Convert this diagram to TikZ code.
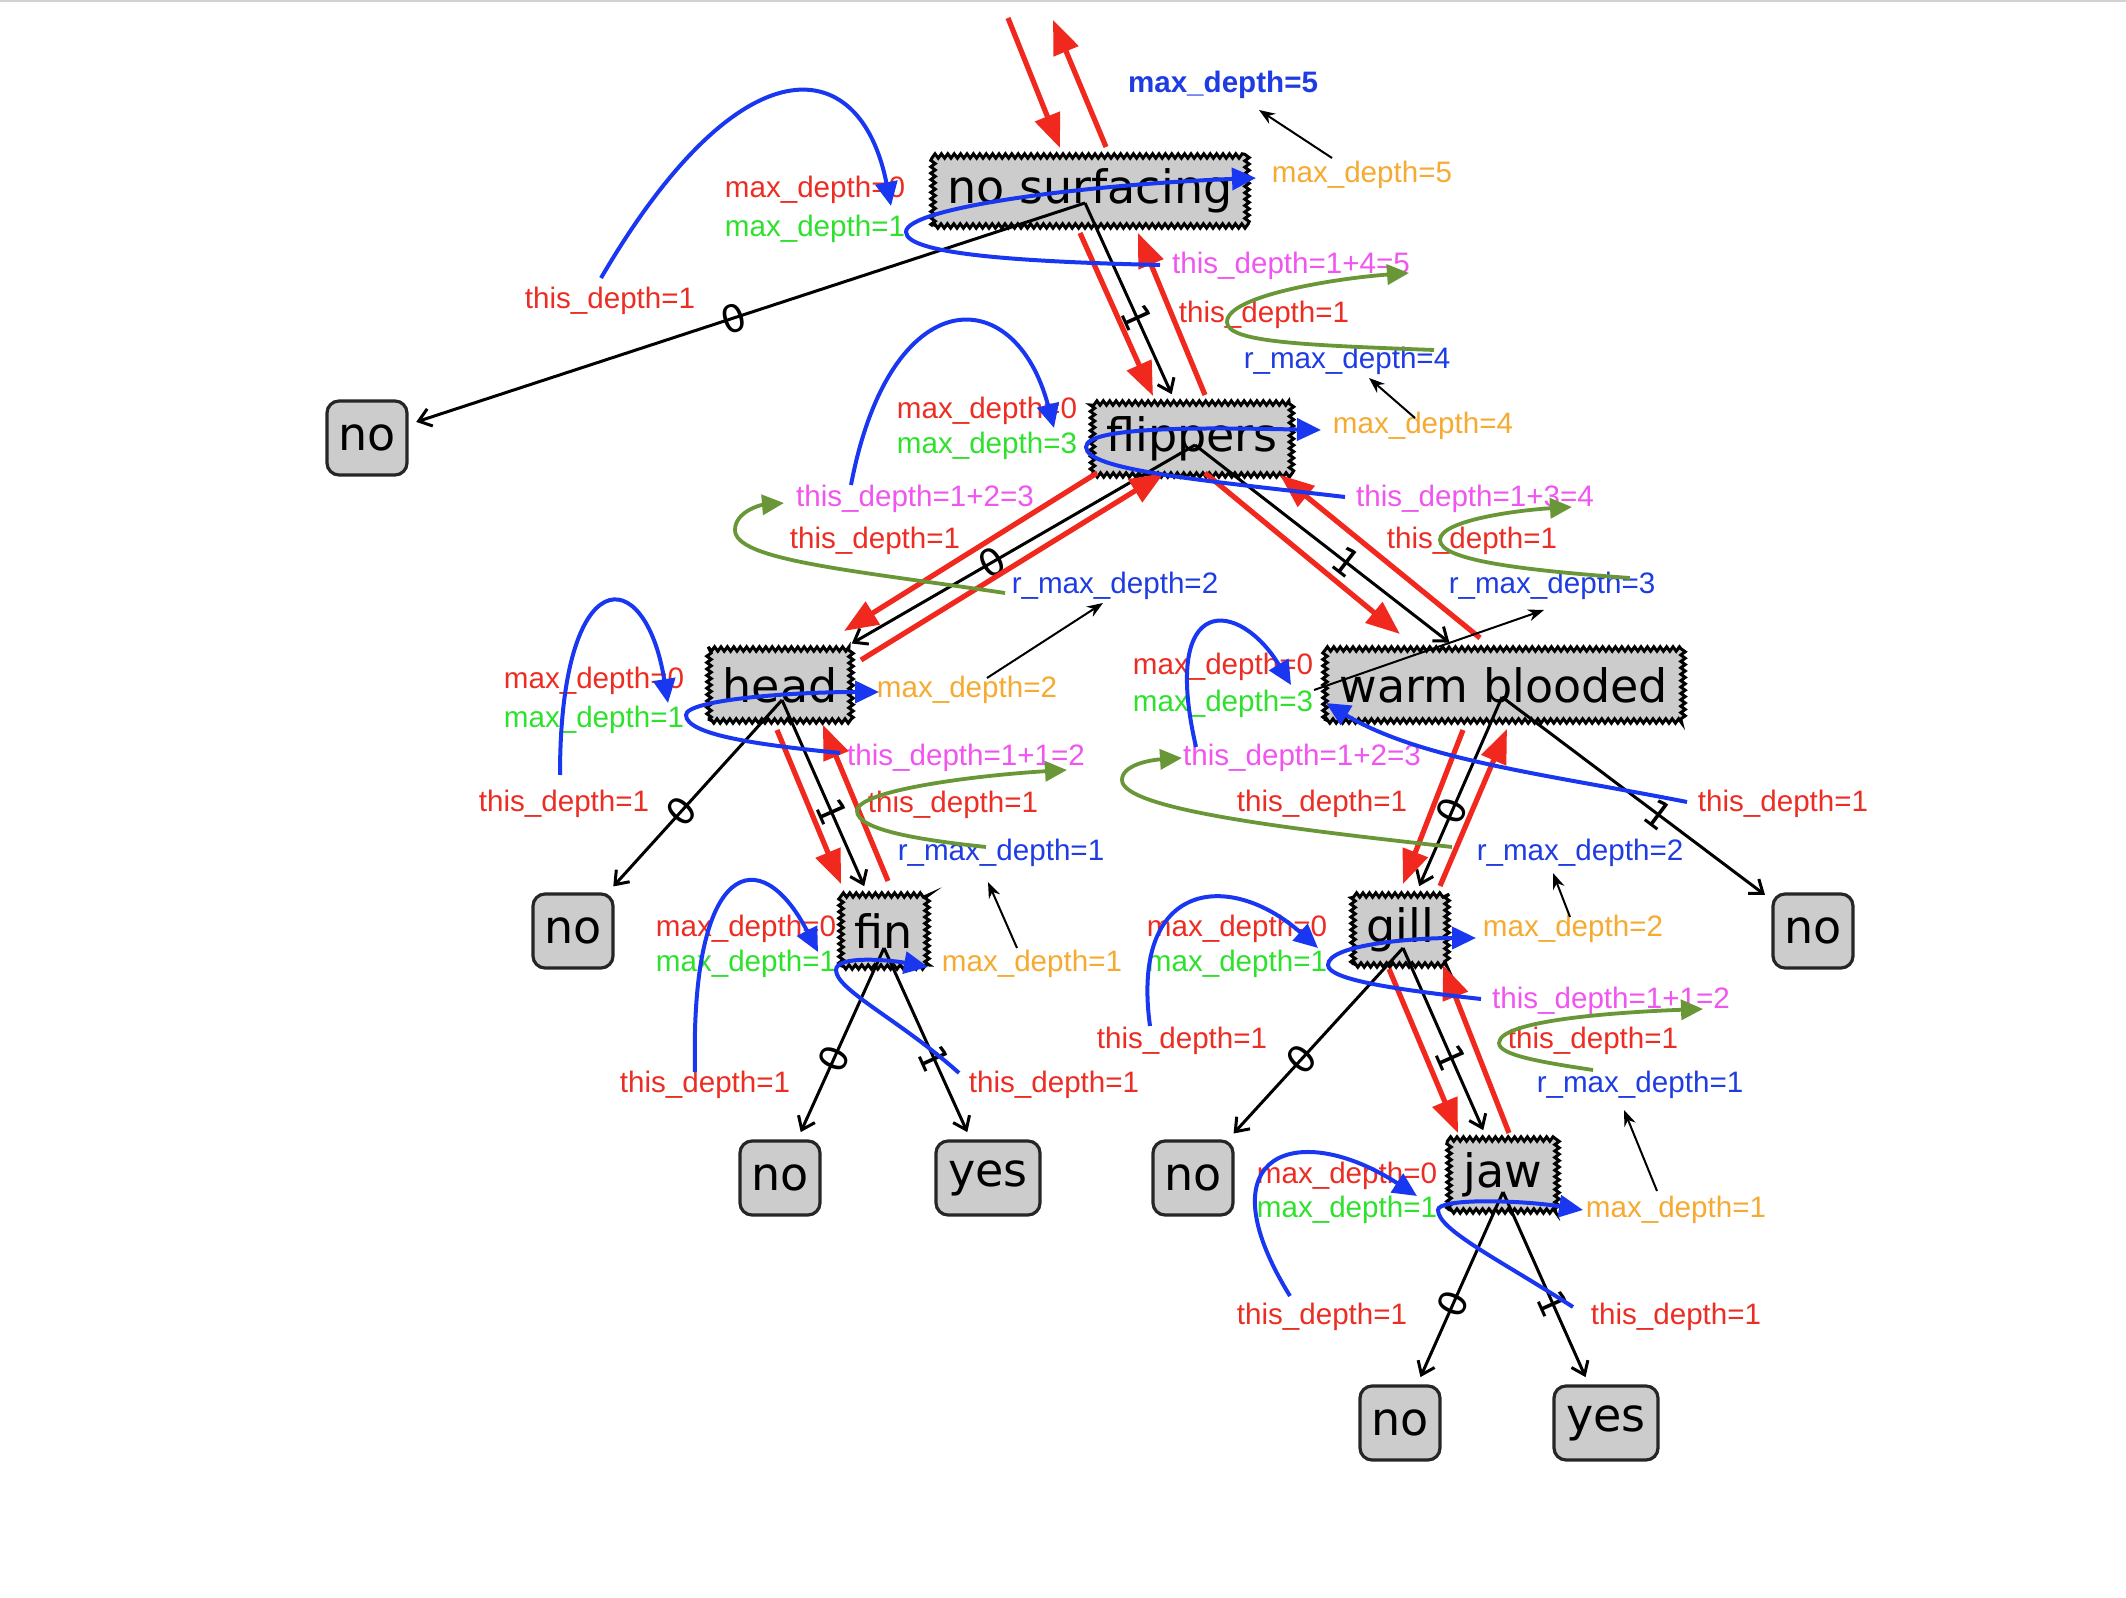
\documentclass[tikz,border=0pt]{standalone}
\usepackage{fontspec}
\setmainfont{Liberation Sans}
\newfontfamily\nodefont{DejaVu Sans}
\usetikzlibrary{arrows.meta,decorations.pathmorphing}
\definecolor{myred}{RGB}{240,40,30}
\definecolor{myblue}{RGB}{25,55,240}
\definecolor{mygreen}{RGB}{105,150,55}
\definecolor{lgreen}{RGB}{45,225,45}
\definecolor{orng}{RGB}{245,170,50}
\definecolor{mag}{RGB}{240,85,240}
\definecolor{rtext}{RGB}{235,45,35}
\definecolor{btext}{RGB}{30,60,225}
\definecolor{boxgray}{RGB}{204,204,204}
\tikzset{
  dec/.style={draw=black, line width=1.5pt, fill=boxgray, inner sep=0pt,
    font=\nodefont\fontsize{23}{24}\selectfont,
    decorate, decoration={zigzag, segment length=3.2pt, amplitude=1.1pt}},
  leaf/.style={draw=black!85, line width=1.6pt, fill=boxgray, rounded corners=6pt,
    inner sep=0pt, minimum height=37pt, font=\nodefont\fontsize{23}{24}\selectfont},
  tedge/.style={draw=black, line width=1.5pt, -{Straight Barb[length=6pt,width=9pt]}, shorten >=4pt},
  elab/.style={sloped, pos=0.58, inner sep=0pt, font=\nodefont\fontsize{19}{20}\selectfont},
  lbl/.style={inner sep=0pt, font=\fontsize{14.8}{16}\selectfont},
  rl/.style={lbl, text=rtext},
  gl/.style={lbl, text=lgreen},
  ol/.style={lbl, text=orng},
  ml/.style={lbl, text=mag},
  bl/.style={lbl, text=btext},
  redarr/.style={draw=myred, line width=2.6pt, -{Triangle[length=17pt,width=13pt]}},
  blarr/.style={draw=myblue, line width=2pt, -{Triangle[length=12pt,width=11pt]}},
  grarr/.style={draw=mygreen, line width=1.9pt, -{Triangle[length=11pt,width=10pt]}},
  bkarr/.style={draw=black, line width=1pt, -{Stealth[length=8pt,width=6pt]}}
}
\begin{document}
\begin{tikzpicture}[x=0.5pt,y=-0.5pt]
\useasboundingbox (0,0) rectangle (2126,1598);
\draw[gray!35, line width=1pt] (0,1) -- (2126,1);

% decision nodes
\node[dec, minimum width=157pt, minimum height=35pt] (ns) at (1090,191) {no surfacing};
\node[dec, minimum width=99.5pt, minimum height=36pt] (fl) at (1192,439) {flippers};
\node[dec, minimum width=71pt, minimum height=36pt] (hd) at (780,685) {head};
\node[dec, minimum width=179pt, minimum height=36pt] (wb) at (1504,685) {warm blooded};
\node[dec, minimum width=43pt, minimum height=36pt] (fn) at (884,931) {fin};
\node[dec, minimum width=47pt, minimum height=35pt] (gi) at (1400,930) {gill};
\node[dec, minimum width=54pt, minimum height=36pt] (jw) at (1503,1175) {jaw};

% leaves
\node[leaf, minimum width=40pt] (l1) at (367,438) {no};
\node[leaf, minimum width=40pt] (l2) at (573,931) {no};
\node[leaf, minimum width=40pt] (l3) at (780,1178) {no};
\node[leaf, minimum width=52pt] (l4) at (988,1178) {yes};
\node[leaf, minimum width=40pt] (l5) at (1813,931) {no};
\node[leaf, minimum width=40pt] (l6) at (1193,1178) {no};
\node[leaf, minimum width=40pt] (l7) at (1400,1423) {no};
\node[leaf, minimum width=52pt] (l8) at (1606,1423) {yes};

% edge origins
\coordinate (ns-o) at (1085,203);
\coordinate (fl-o) at (1195,445);
\coordinate (hd-o) at (782,700);
\coordinate (wb-o) at (1502,697);
\coordinate (fn-o) at (884,948);
\coordinate (gi-o) at (1403,948);
\coordinate (jw-o) at (1503,1192);

% tree edges
\draw[tedge] (ns-o) -- node[elab, pos=0.52]{0} (l1);
\draw[tedge] (ns-o) -- node[elab]{1} (fl);
\draw[tedge] (fl-o) -- node[elab]{0} (hd);
\draw[tedge] (fl-o) -- node[elab]{1} (wb);
\draw[tedge] (hd-o) -- node[elab]{0} (l2);
\draw[tedge] (hd-o) -- node[elab]{1} (fn);
\draw[tedge] (fn-o) -- node[elab]{0} (l3);
\draw[tedge] (fn-o) -- node[elab]{1} (l4);
\draw[tedge] (wb-o) -- node[elab]{0} (gi);
\draw[tedge] (wb-o) -- node[elab]{1} (l5);
\draw[tedge] (gi-o) -- node[elab]{0} (l6);
\draw[tedge] (gi-o) -- node[elab]{1} (jw);
\draw[tedge] (jw-o) -- node[elab]{0} (l7);
\draw[tedge] (jw-o) -- node[elab]{1} (l8);

% labels: no surfacing
\node[rl] (t1) at (815,190) {max\_depth=0};
\node[gl] (t2) at (815,229) {max\_depth=1};
\node[ol] (t3) at (1362,175) {max\_depth=5};
\node[lbl, text=btext, font=\bfseries\fontsize{14.8}{16}\selectfont] (t4) at (1223,85) {max\_depth=5};
\node[ml] (t5) at (1291,266) {this\_depth=1+4=5};
\node[rl] (t6) at (610,301) {this\_depth=1};
\node[rl] (t7) at (1264,315) {this\_depth=1};
\node[bl] (t8) at (1347,361) {r\_max\_depth=4};
% flippers
\node[rl] (f1) at (987,411) {max\_depth=0};
\node[gl] (f2) at (987,446) {max\_depth=3};
\node[ol] (f3) at (1423,426) {max\_depth=4};
\node[ml] (f4) at (915,499) {this\_depth=1+2=3};
\node[rl] (f5) at (875,541) {this\_depth=1};
\node[bl] (f6) at (1115,586) {r\_max\_depth=2};
\node[ml] (f7) at (1475,499) {this\_depth=1+3=4};
\node[rl] (f8) at (1472,541) {this\_depth=1};
\node[bl] (f9) at (1552,586) {r\_max\_depth=3};
% head
\node[rl] (h1) at (594,681) {max\_depth=0};
\node[gl] (h2) at (594,720) {max\_depth=1};
\node[ol] (h3) at (967,690) {max\_depth=2};
\node[ml] (h4) at (966,758) {this\_depth=1+1=2};
\node[rl] (h5) at (564,804) {this\_depth=1};
\node[rl] (h6) at (953,805) {this\_depth=1};
\node[bl] (h7) at (1001,853) {r\_max\_depth=1};
% warm blooded
\node[rl] (w1) at (1223,667) {max\_depth=0};
\node[gl] (w2) at (1223,704) {max\_depth=3};
\node[ml] (w3) at (1302,758) {this\_depth=1+2=3};
\node[rl] (w4) at (1322,804) {this\_depth=1};
\node[bl] (w5) at (1580,853) {r\_max\_depth=2};
\node[rl] (w6) at (1783,804) {this\_depth=1};
% fin
\node[rl] (n1) at (746,929) {max\_depth=0};
\node[gl] (n2) at (746,964) {max\_depth=1};
\node[ol] (n3) at (1032,964) {max\_depth=1};
\node[rl] (n4) at (705,1085) {this\_depth=1};
\node[rl] (n5) at (1054,1085) {this\_depth=1};
% gill
\node[rl] (g1) at (1237,929) {max\_depth=0};
\node[gl] (g2) at (1237,964) {max\_depth=1};
\node[ol] (g3) at (1573,929) {max\_depth=2};
\node[ml] (g4) at (1611,1001) {this\_depth=1+1=2};
\node[rl] (g5) at (1593,1041) {this\_depth=1};
\node[bl] (g6) at (1640,1085) {r\_max\_depth=1};
\node[rl] (g7) at (1182,1041) {this\_depth=1};
% jaw
\node[rl] (j1) at (1347,1176) {max\_depth=0};
\node[gl] (j2) at (1347,1210) {max\_depth=1};
\node[ol] (j3) at (1676,1210) {max\_depth=1};
\node[rl] (j4) at (1322,1317) {this\_depth=1};
\node[rl] (j5) at (1676,1317) {this\_depth=1};

% red call / return arrows
\draw[redarr] (1008,18) -- (1060,148);
\draw[redarr] (1106,147) -- (1053,20);
\draw[redarr] (1080,233) -- (1153,396);
\draw[redarr] (1205,395) -- (1138,233);
\draw[redarr] (1097,473) -- (844,631);
\draw[redarr] (861,660) -- (1164,473);
\draw[redarr] (1205,473) -- (1400,634);
\draw[redarr] (1480,638) -- (1280,475);
\draw[redarr] (777,730) -- (841,884);
\draw[redarr] (888,881) -- (823,725);
\draw[redarr] (1463,730) -- (1403,884);
\draw[redarr] (1440,886) -- (1507,729);
\draw[redarr] (1389,969) -- (1458,1133);
\draw[redarr] (1509,1133) -- (1443,965);

% blue / green loops and black result arrows
% no surfacing
\draw[blarr] (601,278) .. controls (740,40) and (860,50) .. (891,206);
\draw[blarr] (1160,265) .. controls (1030,262) and (906,255) .. (906,232) .. controls (906,208) and (1080,185) .. (1256,178);
\draw[grarr] (1434,350) .. controls (1300,345) and (1227,342) .. (1227,322) .. controls (1227,295) and (1340,278) .. (1409,273);
\draw[bkarr] (1332,158) -- (1259,110);
% flippers
\draw[blarr] (851,485) .. controls (890,280) and (1015,280) .. (1054,428);
\draw[blarr] (1345,497) .. controls (1200,480) and (1086,470) .. (1086,447) .. controls (1086,425) and (1220,428) .. (1321,430);
\draw[grarr] (1005,593) .. controls (850,570) and (735,560) .. (735,530) .. controls (735,512) and (760,505) .. (784,503);
\draw[grarr] (1630,578) .. controls (1520,570) and (1440,560) .. (1440,540) .. controls (1440,520) and (1520,510) .. (1572,507);
\draw[bkarr] (1415,418) -- (1369,378);
% head
\draw[blarr] (560,775) .. controls (560,560) and (645,560) .. (668,703);
\draw[blarr] (840,753) .. controls (760,745) and (686,735) .. (686,715) .. controls (686,700) and (790,692) .. (879,692);
\draw[grarr] (986,847) .. controls (920,840) and (857,830) .. (857,811) .. controls (857,790) and (980,775) .. (1067,770);
\draw[bkarr] (987,678) -- (1103,603);
% warm blooded
\draw[blarr] (1196,747) .. controls (1160,590) and (1240,600) .. (1291,685);
\draw[blarr] (1687,802) .. controls (1550,775) and (1420,760) .. (1326,703);
\draw[grarr] (1452,847) .. controls (1300,830) and (1122,810) .. (1122,780) .. controls (1122,765) and (1150,760) .. (1182,758);
\draw[bkarr] (1314,690) -- (1544,610);
% fin
\draw[blarr] (695,1072) .. controls (690,860) and (760,840) .. (818,952);
\draw[blarr] (959,1073) .. controls (900,1020) and (836,990) .. (836,970) .. controls (836,955) and (890,960) .. (928,967);
\draw[bkarr] (1017,948) -- (988,882);
% gill
\draw[blarr] (1150,1026) .. controls (1130,880) and (1230,870) .. (1318,948);
\draw[blarr] (1481,999) .. controls (1400,990) and (1328,980) .. (1328,965) .. controls (1328,945) and (1410,938) .. (1476,938);
\draw[grarr] (1593,1070) .. controls (1540,1062) and (1499,1055) .. (1499,1043) .. controls (1499,1020) and (1620,1012) .. (1703,1009);
\draw[bkarr] (1570,917) -- (1553,873);
% jaw
\draw[blarr] (1290,1296) .. controls (1200,1150) and (1300,1120) .. (1417,1196);
\draw[blarr] (1573,1307) .. controls (1500,1260) and (1438,1230) .. (1438,1210) .. controls (1438,1198) and (1520,1200) .. (1583,1210);
\draw[bkarr] (1657,1191) -- (1624,1110);
\end{tikzpicture}
\end{document}
